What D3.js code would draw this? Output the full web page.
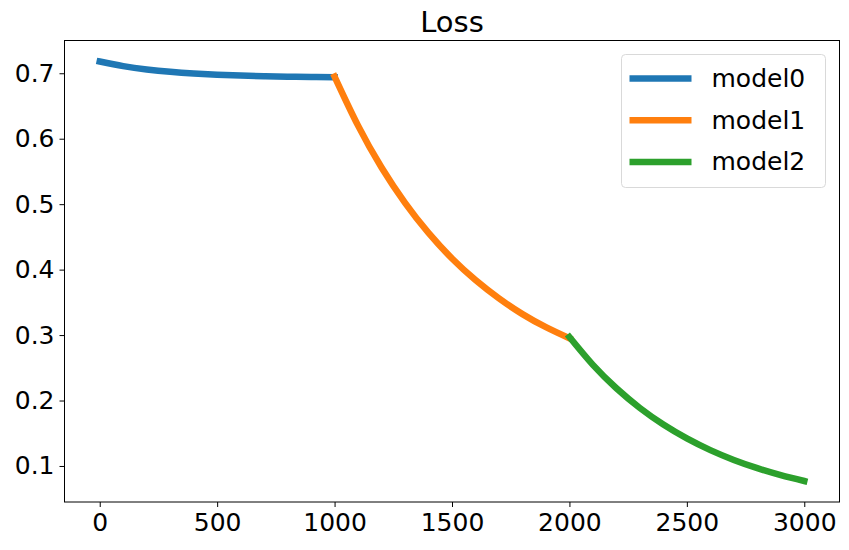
<!DOCTYPE html>
<html>
<head>
<meta charset="utf-8">
<script src="https://cdn.jsdelivr.net/npm/d3@7"></script>
<style>
  body { margin: 0; background: #fff; }
  text { font-family: "DejaVu Sans", sans-serif; fill: #000; }
</style>
</head>
<body>
<div id="chart"></div>
<script>
// Data
var seriesNames = ["model0", "model1", "model2"];
var seriesColors = ["#1f77b4", "#ff7f0e", "#2ca02c"];

var steps0 = [0, 100, 200, 300, 400, 500, 600, 700, 800, 900, 1000];
var loss0 = [0.718, 0.7109, 0.7058, 0.7022, 0.6996, 0.6977, 0.6964, 0.6954, 0.6947, 0.6942, 0.6939];

var steps1 = [1000, 1100, 1200, 1300, 1400, 1500, 1600, 1700, 1800, 1900, 2000];
var loss1 = [0.695, 0.620, 0.556, 0.502, 0.456, 0.417, 0.384, 0.356, 0.332, 0.312, 0.295];

var steps2 = [2000, 2100, 2200, 2300, 2400, 2500, 2600, 2700, 2800, 2900, 3000];
var loss2 = [0.297, 0.2544, 0.2187, 0.1886, 0.1633, 0.1421, 0.1242, 0.1092, 0.0966, 0.086, 0.077];

var xTicks = [0, 500, 1000, 1500, 2000, 2500, 3000];
var yTicks = [0.1, 0.2, 0.3, 0.4, 0.5, 0.6, 0.7];

// SVG area
var svgWidth = 849;
var svgHeight = 550;

var chartMargin = {
  top: 40.5,
  right: 9.5,
  bottom: 48,
  left: 64.5
};

var chartWidth = svgWidth - chartMargin.left - chartMargin.right;
var chartHeight = svgHeight - chartMargin.top - chartMargin.bottom;

var svg = d3.select("#chart")
  .append("svg")
  .attr("width", svgWidth)
  .attr("height", svgHeight);

var chartGroup = svg.append("g")
  .attr("transform", `translate(${chartMargin.left}, ${chartMargin.top})`);

// build series from the arrays
var allSteps = [steps0, steps1, steps2];
var allLoss = [loss0, loss1, loss2];
var series = seriesNames.map(function(name, i) {
  return {
    name: name,
    color: seriesColors[i],
    values: allSteps[i].map((s, j) => ({ step: s, loss: allLoss[i][j] }))
  };
});

// scales with 5% padding like matplotlib
var xExt = d3.extent(d3.merge(allSteps));
var yExt = d3.extent(d3.merge(allLoss));
var xPad = (xExt[1] - xExt[0]) * 0.05;
var yPad = (yExt[1] - yExt[0]) * 0.05;

var xScale = d3.scaleLinear()
  .domain([xExt[0] - xPad, xExt[1] + xPad])
  .range([0, chartWidth]);

var yScale = d3.scaleLinear()
  .domain([yExt[0] - yPad, yExt[1] + yPad])
  .range([chartHeight, 0]);

// axes
var bottomAxis = d3.axisBottom(xScale)
  .tickValues(xTicks)
  .tickFormat(d3.format("d"))
  .tickSize(5)
  .tickPadding(6);

var leftAxis = d3.axisLeft(yScale)
  .tickValues(yTicks)
  .tickFormat(d3.format(".1f"))
  .tickSize(5)
  .tickPadding(5);

var xAxisG = chartGroup.append("g")
  .attr("transform", `translate(0, ${chartHeight})`)
  .call(bottomAxis);

var yAxisG = chartGroup.append("g")
  .call(leftAxis);

[xAxisG, yAxisG].forEach(function(g) {
  g.select(".domain").remove();
  g.selectAll("line").attr("stroke", "#000").attr("stroke-width", 1);
  g.selectAll("text")
    .style("font-family", "DejaVu Sans, sans-serif")
    .style("font-size", "25px")
    .attr("fill", "#000");
});

// lines
var line = d3.line()
  .x(d => xScale(d.step))
  .y(d => yScale(d.loss))
  .curve(d3.curveNatural);

chartGroup.selectAll(".series")
  .data(series)
  .enter()
  .append("path")
  .attr("class", "series")
  .attr("d", d => line(d.values))
  .attr("fill", "none")
  .attr("stroke", d => d.color)
  .attr("stroke-width", 6.5)
  .attr("stroke-linecap", "square");

// frame
chartGroup.append("rect")
  .attr("width", chartWidth)
  .attr("height", chartHeight)
  .attr("fill", "none")
  .attr("stroke", "#000")
  .attr("stroke-width", 1);

// title
chartGroup.append("text")
  .attr("x", chartWidth / 2)
  .attr("y", -8.5)
  .attr("text-anchor", "middle")
  .style("font-size", "29px")
  .text("Loss");

// legend
var legend = svg.append("g")
  .attr("transform", "translate(621.5, 54.5)");

legend.append("rect")
  .attr("width", 204)
  .attr("height", 133)
  .attr("rx", 4)
  .attr("fill", "#fff")
  .attr("fill-opacity", 0.8)
  .attr("stroke", "#d9d9d9")
  .attr("stroke-width", 1);

var legendItem = legend.selectAll(".item")
  .data(series)
  .enter()
  .append("g")
  .attr("class", "item")
  .attr("transform", (d, i) => `translate(0, ${24 + i * 41.7})`);

legendItem.append("line")
  .attr("x1", 8)
  .attr("x2", 70)
  .attr("stroke", d => d.color)
  .attr("stroke-width", 6.5);

legendItem.append("text")
  .attr("x", 90)
  .attr("y", 8.5)
  .style("font-size", "25px")
  .text(d => d.name);
</script>
</body>
</html>
